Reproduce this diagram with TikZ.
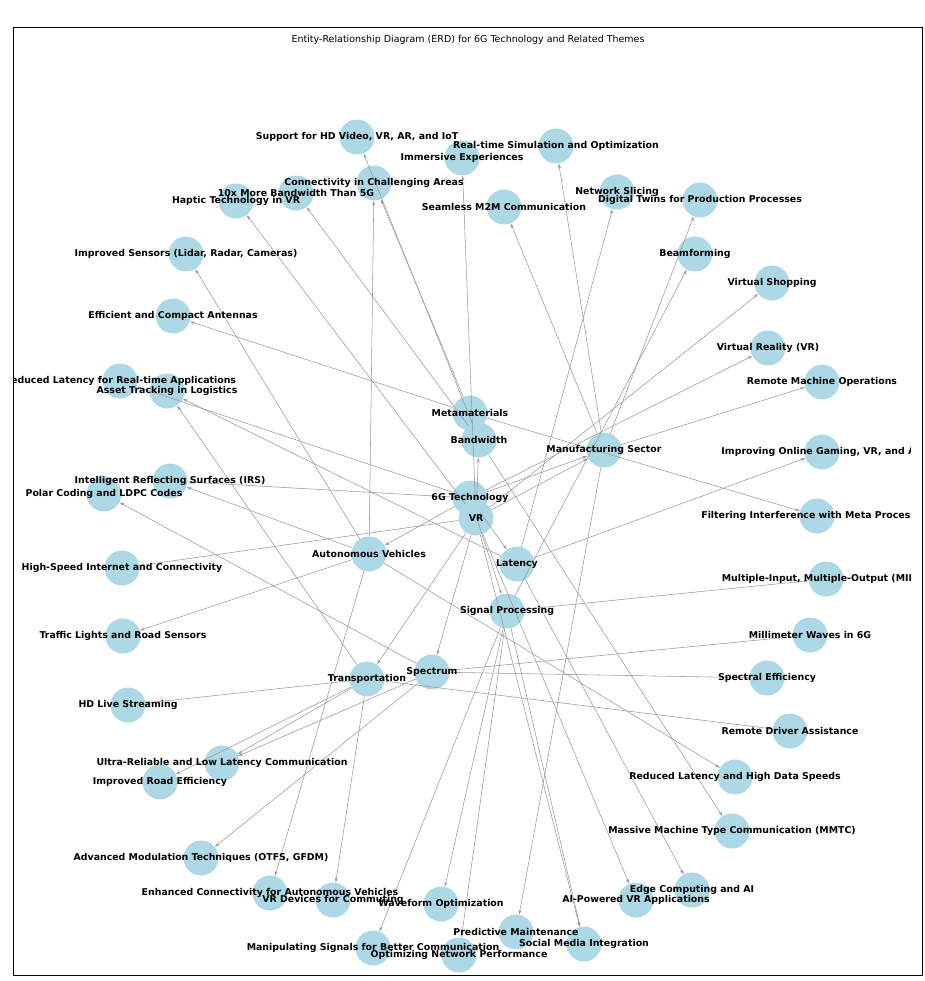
\documentclass[tikz,border=0pt]{standalone}
\usepackage{fontspec}
\setmainfont{DejaVu Sans}
\usetikzlibrary{arrows.meta}
\begin{document}
\begin{tikzpicture}[x=1pt,y=-1pt,
  circ/.style={circle,fill=nodeblue,minimum size=35pt,inner sep=0pt},
  lab/.style={font=\bfseries\fontsize{9.4}{10}\selectfont,inner sep=0pt},
  ed/.style={draw=gray!80,line width=0.55pt,-{Stealth[length=5pt,width=3pt]}}]
\definecolor{nodeblue}{RGB}{173,216,230}
\useasboundingbox (0,0) rectangle (924,981);
\draw[line width=0.8pt] (13,27) rectangle (922,975);
\node[font=\fontsize{9.5}{10}\selectfont] at (468,40) {Entity-Relationship Diagram (ERD) for 6G Technology and Related Themes};
\newcommand\gn[3]{\node[circ] (#1) at (#2,#3) {};}
\gn{sup}{357}{137}\gn{rts}{556}{146}\gn{imm}{462}{158}\gn{con}{374}{183}
\gn{tenx}{296}{193}\gn{hap}{236}{201}\gn{ns}{617}{192}\gn{dt}{700}{200}
\gn{m2m}{504}{207}\gn{sen}{186}{254}\gn{bf}{695}{254}\gn{vs}{772}{283}
\gn{ant}{173}{316}\gn{vrr}{768}{348}\gn{rlt}{120}{381}\gn{at}{167}{391}
\gn{rmo}{822}{382}\gn{meta}{470}{413}\gn{bw}{479}{440}\gn{man}{604}{450}
\gn{gam}{822}{452}\gn{irs}{170}{481}\gn{pol}{104}{494}\gn{sixg}{470}{498}
\gn{vr}{476}{518}\gn{fil}{817}{516}\gn{av}{369}{554}\gn{lat}{517}{564}
\gn{hsi}{122}{568}\gn{mimo}{826}{579}\gn{sp}{507}{611}\gn{tls}{123}{636}
\gn{mmw}{810}{635}\gn{spec}{432}{672}\gn{tr}{367}{679}\gn{se}{767}{678}
\gn{hdl}{128}{705}\gn{rda}{790}{731}\gn{ull}{222}{763}\gn{ire}{160}{782}
\gn{rld}{735}{777}\gn{mmtc}{732}{831}\gn{amt}{201}{858}\gn{eca}{270}{893}
\gn{vrd}{333}{900}\gn{wo}{441}{904}\gn{eci}{692}{890}\gn{aivr}{636}{900}
\gn{pm}{516}{932}\gn{smi}{584}{944}\gn{msb}{373}{948}\gn{onp}{459}{955}
\foreach \a/\b in {meta/ant,meta/fil,meta/con,bw/tenx,vr/hap,av/sen,av/con,bw/sup,
  vr/imm,man/rts,man/m2m,lat/ns,man/dt,sp/bf,vr/vs,sixg/vrr,man/rmo,lat/gam,
  sp/mimo,spec/mmw,spec/se,tr/rda,av/rld,bw/mmtc,lat/eci,vr/aivr,vr/smi,sp/wo,
  sp/onp,sp/msb,man/pm,lat/at,tr/at,sixg/rlt,spec/pol,sixg/irs,vr/hsi,av/tls,
  tr/hdl,tr/ull,spec/ull,tr/ire,spec/amt,av/eca,tr/vrd,sixg/av,sixg/lat,
  sixg/sp,vr/bw,vr/spec,vr/tr,sixg/man,vr/man,av/irs,sp/smi}
  \draw[ed] (\a) -- (\b);
\begin{scope}
\clip (14,28) rectangle (910,974);
\foreach \n/\t in {sup/{Support for HD Video, VR, AR, and IoT},rts/{Real-time Simulation and Optimization},
 imm/{Immersive Experiences},con/{Connectivity in Challenging Areas},tenx/{10x More Bandwidth Than 5G},
 hap/{Haptic Technology in VR},ns/{Network Slicing},dt/{Digital Twins for Production Processes},
 m2m/{Seamless M2M Communication},sen/{Improved Sensors (Lidar, Radar, Cameras)},bf/{Beamforming},
 vs/{Virtual Shopping},ant/{Efficient and Compact Antennas},vrr/{Virtual Reality (VR)},
 rlt/{Reduced Latency for Real-time Applications},at/{Asset Tracking in Logistics},
 rmo/{Remote Machine Operations},meta/{Metamaterials},bw/{Bandwidth},man/{Manufacturing Sector},
 gam/{Improving Online Gaming, VR, and AR},irs/{Intelligent Reflecting Surfaces (IRS)},
 pol/{Polar Coding and LDPC Codes},sixg/{6G Technology},vr/{VR},
 fil/{Filtering Interference with Meta Processing},av/{Autonomous Vehicles},lat/{Latency},
 hsi/{High-Speed Internet and Connectivity},mimo/{Multiple-Input, Multiple-Output (MIMO)},
 sp/{Signal Processing},tls/{Traffic Lights and Road Sensors},mmw/{Millimeter Waves in 6G},
 spec/{Spectrum},tr/{Transportation},se/{Spectral Efficiency},hdl/{HD Live Streaming},
 rda/{Remote Driver Assistance},ull/{Ultra-Reliable and Low Latency Communication},
 ire/{Improved Road Efficiency},rld/{Reduced Latency and High Data Speeds},
 mmtc/{Massive Machine Type Communication (MMTC)},amt/{Advanced Modulation Techniques (OTFS, GFDM)},
 eca/{Enhanced Connectivity for Autonomous Vehicles},vrd/{VR Devices for Commuting},
 wo/{Waveform Optimization},eci/{Edge Computing and AI},aivr/{AI-Powered VR Applications},
 pm/{Predictive Maintenance},smi/{Social Media Integration},
 msb/{Manipulating Signals for Better Communication},onp/{Optimizing Network Performance}}
 \node[lab] at (\n) {\t};
\end{scope}
\end{tikzpicture}
\end{document}
